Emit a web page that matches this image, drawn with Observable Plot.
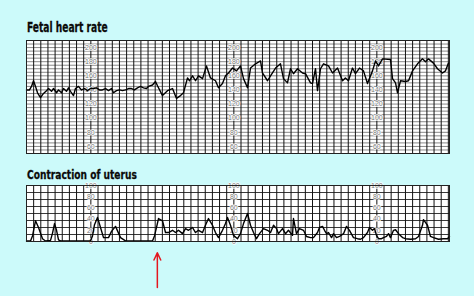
<!DOCTYPE html>
<html>
<head>
<meta charset="utf-8">
<script src="https://cdn.jsdelivr.net/npm/d3@7"></script>
<script src="https://cdn.jsdelivr.net/npm/@observablehq/plot@0.6"></script>
<style>
  html, body { margin: 0; padding: 0; background: #ccfafa; }
  body { width: 474px; height: 296px; position: relative; overflow: hidden; }
  .title {
    position: absolute; left: 27px; margin: 0; white-space: nowrap;
    font-family: "DejaVu Sans", "Liberation Sans", sans-serif;
    font-weight: bold; color: #0a0a0a; line-height: 1;
    transform-origin: 0 0; -webkit-text-stroke: 0.3px #0a0a0a;
  }
  #t1 { top: 20.4px; font-size: 14px; transform: scaleX(0.65); }
  #t2 { top: 167.5px; font-size: 13px; transform: scaleX(0.70); }
  #fhr, #toco { position: absolute; left: 0; }
  #fhr { top: 34px; }
  #toco { top: 179px; }
  svg { display: block; }
</style>
</head>
<body>
<div class="title" id="t1">Fetal heart rate</div>
<div class="title" id="t2">Contraction of uterus</div>
<div id="fhr"></div>
<div id="toco"></div>
<script>
// Time runs in chart-paper columns (one vertical rule per column).
const paperColumns = 59.16;
const scaleColumns = [9, 29, 49];           // columns where the printed scale numbers sit

// Fetal heart rate trace (bpm)
const fhrTime = [0, 0.42, 0.7, 0.98, 1.26, 1.54, 1.96, 2.38, 2.8, 3.08, 3.5, 3.78, 4.2, 4.48, 4.9, 5.17,
  5.59, 5.87, 6.15, 6.57, 6.85, 7.27, 7.69, 8.11, 8.53, 8.95, 9.37, 9.79, 10.2, 10.6, 11.05, 11.47,
  11.89, 12.17, 12.59, 13.0, 13.43, 13.85, 14.27, 14.69, 15.1, 15.52, 15.94, 16.36, 16.78, 17.06,
  17.62, 18.04, 18.32, 19.02, 19.72, 20.42, 20.98, 21.54, 21.96, 22.52, 22.8, 23.22, 23.64, 24.06,
  24.62, 25.17, 25.73, 26.43, 26.85, 27.41, 27.83, 28.25, 28.81, 29.37, 29.93, 30.35, 30.91, 31.33,
  32.03, 32.73, 33.0, 33.71, 34.13, 34.83, 35.52, 35.94, 36.5, 36.92, 37.34, 37.9, 38.6, 39.02,
  39.72, 40.0, 40.42, 40.7, 41.12, 41.54, 42.24, 42.8, 43.5, 44.2, 44.6, 45.03, 45.59, 46.01, 46.57,
  47.13, 47.69, 48.39, 48.81, 49.23, 49.79, 50.91, 51.19, 51.61, 51.89, 52.31, 53.0, 53.43, 53.99,
  54.69, 55.38, 55.8, 56.22, 56.92, 57.48, 58.18, 58.6, 59.02];
const fhrBpm = [140, 140, 145, 153, 145, 136, 129, 135, 139, 142, 138, 142, 136, 140, 136, 142,
  138, 143, 138, 132, 142, 145, 140, 142, 139, 142, 142, 143, 140, 140, 142, 139,
  142, 136, 139, 140, 139, 140, 142, 142, 140, 143, 145, 143, 142, 145,
  147, 152, 146, 132, 139, 142, 128, 132, 136, 157, 153, 160, 153, 160,
  156, 174, 157, 153, 143, 149, 160, 164, 171, 167, 174, 156, 143, 171,
  177, 181, 164, 153, 160, 171, 177, 156, 150, 170, 163, 170, 164, 163,
  150, 149, 170, 139, 170, 177, 174, 164, 171, 153, 157, 153, 171, 163, 171,
  167, 149, 167, 181, 174, 184, 183, 156, 150, 136, 153, 152, 153, 167,
  177, 184, 180, 184, 178, 170, 164, 167, 178];

// Uterine contraction trace (pressure units)
const tocoTime = [0, 0.56, 0.84, 1.26, 1.68, 2.24, 2.66, 3.36, 3.64, 3.92, 4.2, 4.48, 4.76, 8.95,
  9.23, 9.51, 9.93, 10.35, 10.77, 11.47, 11.89, 12.45, 12.87, 13.15, 13.85, 17.62, 17.9, 18.18,
  18.46, 19.02, 19.44, 19.86, 20.42, 20.84, 21.26, 21.82, 22.24, 22.66, 23.22, 23.64, 24.06, 24.62,
  25.03, 25.45, 26.01, 26.43, 26.85, 27.41, 27.83, 28.11, 28.53, 28.95, 29.51, 29.93, 30.35, 30.91,
  31.33, 31.75, 32.17, 32.59, 33.15, 33.71, 34.13, 34.55, 34.97, 35.24, 35.8, 36.22, 36.64, 37.2,
  37.34, 37.76, 38.18, 38.74, 39.16, 39.72, 40.14, 40.7, 40.98, 41.4, 41.68, 41.96, 42.24, 42.66,
  42.94, 43.36, 43.78, 44.34, 44.76, 45.17, 45.73, 46.29, 46.71, 47.13, 47.69, 47.97, 48.39, 48.67,
  48.95, 49.23, 49.65, 49.93, 50.35, 50.63, 50.91, 51.33, 51.61, 52.03, 52.59, 53.0, 53.71, 54.41,
  54.83, 55.38, 55.52, 56.08, 56.5, 56.92, 57.62, 58.32, 58.88, 59.16];
const tocoValue = [1, 1, 10, 37, 25, 5, 1, 2, 15, 32, 20, 3, 1, 1,
  10, 30, 43, 25, 7, 7, 18, 27, 15, 7, 1, 1, 10, 25,
  41, 37, 16, 16, 20, 16, 20, 14, 23, 20, 25, 16, 20, 16,
  29, 41, 29, 16, 7, 20, 32, 43, 29, 11, 5, 14, 32, 50,
  29, 16, 5, 14, 23, 20, 16, 29, 23, 14, 23, 14, 20, 11,
  41, 14, 23, 20, 9, 7, 7, 16, 25, 27, 20, 14, 16, 7,
  14, 7, 9, 14, 27, 20, 7, 5, 4, 7, 16, 25, 20, 23,
  11, 5, 5, 7, 9, 14, 7, 20, 21, 14, 7, 5, 4, 5,
  9, 29, 39, 29, 9, 7, 4, 5, 5, 9];

// Printed scale numbers
const fhrScaleLabels = [200, 180, 160, 140, 120, 100, 80, 60];
const tocoScaleLabels = [100, 80, 60, 40, 20, 0];

// Contraction onset marker
const onsetTime = [18.3];

const fhr = fhrTime.map((t, i) => ({t, bpm: fhrBpm[i]}));
const toco = tocoTime.map((t, i) => ({t, v: tocoValue[i]}));
const columns = d3.range(0, Math.floor(paperColumns) + 1);
const scaleText = (labels) => scaleColumns.flatMap(c => labels.map(v => ({c, v})));

const labelStyle = {
  x: "c", y: "v", text: d => String(d.v),
  fontSize: 7, fontFamily: "Liberation Sans, Arial, sans-serif",
  fill: "#7a7a7a", stroke: "white", strokeWidth: 1.5, paintOrder: "stroke"
};

const fhrChart = Plot.plot({
  width: 474, height: 125,
  marginLeft: 26, marginRight: 25, marginTop: 6, marginBottom: 6,
  x: {domain: [0, paperColumns], axis: null},
  y: {domain: [50, 210], axis: null},
  style: {background: "transparent", overflow: "visible"},
  marks: [
    Plot.frame({fill: "white"}),
    Plot.ruleY(d3.range(50, 211, 5), {stroke: "#6a6a6a", strokeWidth: 0.8}),
    Plot.ruleX(columns, {stroke: "#111", strokeWidth: 1}),
    Plot.text(scaleText(fhrScaleLabels), labelStyle),
    Plot.line(fhr, {x: "t", y: "bpm", stroke: "#000", strokeWidth: 1.4, strokeLinejoin: "round"}),
    Plot.frame({stroke: "#222", strokeWidth: 1})
  ]
});
document.getElementById("fhr").append(fhrChart);

const tocoChart = Plot.plot({
  width: 474, height: 117,
  marginLeft: 26, marginRight: 25, marginTop: 6, marginBottom: 55,
  x: {domain: [0, paperColumns], axis: null},
  y: {domain: [0, 100], axis: null},
  style: {background: "transparent", overflow: "visible"},
  marks: [
    Plot.frame({fill: "white"}),
    Plot.ruleY(d3.range(0, 100.01, 12.5), {stroke: "#222", strokeWidth: 0.9}),
    Plot.ruleX(columns, {stroke: "#111", strokeWidth: 1}),
    Plot.text(scaleText(tocoScaleLabels), labelStyle),
    Plot.line(toco, {x: "t", y: "v", stroke: "#000", strokeWidth: 1.4, strokeLinejoin: "round"}),
    Plot.frame({stroke: "#222", strokeWidth: 1}),
    // red arrow below the strip pointing up at the onset of the contraction
    Plot.arrow(onsetTime, {
      x1: d => d, x2: d => d, y1: () => -82, y2: () => -20,
      stroke: "#e3161e", strokeWidth: 1.5, headLength: 8, headAngle: 50
    })
  ]
});
document.getElementById("toco").append(tocoChart);
</script>
</body>
</html>
